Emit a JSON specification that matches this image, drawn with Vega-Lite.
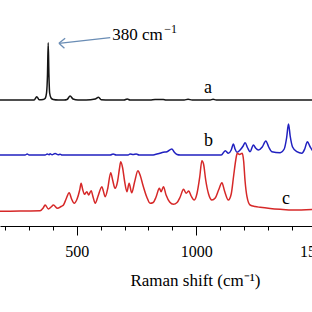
{
  "$schema": "https://vega.github.io/schema/vega-lite/v6.json",
  "width": 312,
  "height": 226,
  "autosize": "none",
  "padding": {"left": 0, "top": 0, "right": 0, "bottom": 86},
  "background": "white",
  "config": {"view": {"stroke": null}},
  "resolve": {"axis": {"x": "independent"}},
  "datasets": {
    "spectra": [
      {"shift": 178, "intensity": 126, "series": "a"},
      {"shift": 262, "intensity": 126, "series": "a"},
      {"shift": 304, "intensity": 126, "series": "a"},
      {"shift": 321, "intensity": 126, "series": "a"},
      {"shift": 332, "intensity": 129.3, "series": "a"},
      {"shift": 342, "intensity": 126.3, "series": "a"},
      {"shift": 359, "intensity": 126.5, "series": "a"},
      {"shift": 367, "intensity": 127.5, "series": "a"},
      {"shift": 373, "intensity": 133, "series": "a"},
      {"shift": 377, "intensity": 151, "series": "a"},
      {"shift": 380, "intensity": 183.3, "series": "a"},
      {"shift": 383, "intensity": 151, "series": "a"},
      {"shift": 386, "intensity": 133, "series": "a"},
      {"shift": 392, "intensity": 128, "series": "a"},
      {"shift": 401, "intensity": 126.5, "series": "a"},
      {"shift": 422, "intensity": 126, "series": "a"},
      {"shift": 447, "intensity": 126, "series": "a"},
      {"shift": 459, "intensity": 126.5, "series": "a"},
      {"shift": 472, "intensity": 130, "series": "a"},
      {"shift": 484, "intensity": 127, "series": "a"},
      {"shift": 505, "intensity": 126, "series": "a"},
      {"shift": 539, "intensity": 126, "series": "a"},
      {"shift": 577, "intensity": 127, "series": "a"},
      {"shift": 591, "intensity": 128.7, "series": "a"},
      {"shift": 602, "intensity": 126.3, "series": "a"},
      {"shift": 640, "intensity": 126, "series": "a"},
      {"shift": 698, "intensity": 126, "series": "a"},
      {"shift": 711, "intensity": 127, "series": "a"},
      {"shift": 723, "intensity": 126, "series": "a"},
      {"shift": 807, "intensity": 126, "series": "a"},
      {"shift": 828, "intensity": 126.6, "series": "a"},
      {"shift": 862, "intensity": 126.6, "series": "a"},
      {"shift": 874, "intensity": 126, "series": "a"},
      {"shift": 950, "intensity": 126, "series": "a"},
      {"shift": 966, "intensity": 126.8, "series": "a"},
      {"shift": 983, "intensity": 126, "series": "a"},
      {"shift": 1059, "intensity": 126, "series": "a"},
      {"shift": 1071, "intensity": 126.8, "series": "a"},
      {"shift": 1084, "intensity": 126, "series": "a"},
      {"shift": 1500, "intensity": 126, "series": "a"},

      {"shift": 178, "intensity": 71, "series": "b"},
      {"shift": 283, "intensity": 71, "series": "b"},
      {"shift": 292, "intensity": 72, "series": "b"},
      {"shift": 300, "intensity": 71, "series": "b"},
      {"shift": 367, "intensity": 71, "series": "b"},
      {"shift": 376, "intensity": 72, "series": "b"},
      {"shift": 384, "intensity": 71.3, "series": "b"},
      {"shift": 388, "intensity": 72.2, "series": "b"},
      {"shift": 396, "intensity": 71.3, "series": "b"},
      {"shift": 409, "intensity": 72.5, "series": "b"},
      {"shift": 422, "intensity": 71.3, "series": "b"},
      {"shift": 430, "intensity": 71.8, "series": "b"},
      {"shift": 438, "intensity": 71, "series": "b"},
      {"shift": 640, "intensity": 71, "series": "b"},
      {"shift": 652, "intensity": 72, "series": "b"},
      {"shift": 665, "intensity": 71, "series": "b"},
      {"shift": 715, "intensity": 71, "series": "b"},
      {"shift": 723, "intensity": 72, "series": "b"},
      {"shift": 736, "intensity": 71.4, "series": "b"},
      {"shift": 749, "intensity": 72, "series": "b"},
      {"shift": 761, "intensity": 71, "series": "b"},
      {"shift": 816, "intensity": 71, "series": "b"},
      {"shift": 828, "intensity": 71.5, "series": "b"},
      {"shift": 845, "intensity": 72.5, "series": "b"},
      {"shift": 862, "intensity": 73.7, "series": "b"},
      {"shift": 878, "intensity": 74.3, "series": "b"},
      {"shift": 898, "intensity": 77, "series": "b"},
      {"shift": 908, "intensity": 74, "series": "b"},
      {"shift": 920, "intensity": 71.5, "series": "b"},
      {"shift": 933, "intensity": 71, "series": "b"},
      {"shift": 1105, "intensity": 71, "series": "b"},
      {"shift": 1122, "intensity": 75.3, "series": "b"},
      {"shift": 1135, "intensity": 72.7, "series": "b"},
      {"shift": 1147, "intensity": 76, "series": "b"},
      {"shift": 1156, "intensity": 82, "series": "b"},
      {"shift": 1163, "intensity": 77, "series": "b"},
      {"shift": 1171, "intensity": 73.7, "series": "b"},
      {"shift": 1184, "intensity": 76, "series": "b"},
      {"shift": 1197, "intensity": 80, "series": "b"},
      {"shift": 1205, "intensity": 83.3, "series": "b"},
      {"shift": 1216, "intensity": 78, "series": "b"},
      {"shift": 1226, "intensity": 74.3, "series": "b"},
      {"shift": 1240, "intensity": 81, "series": "b"},
      {"shift": 1249, "intensity": 78, "series": "b"},
      {"shift": 1261, "intensity": 76, "series": "b"},
      {"shift": 1277, "intensity": 79, "series": "b"},
      {"shift": 1292, "intensity": 85, "series": "b"},
      {"shift": 1304, "intensity": 79, "series": "b"},
      {"shift": 1317, "intensity": 74.3, "series": "b"},
      {"shift": 1352, "intensity": 73.3, "series": "b"},
      {"shift": 1369, "intensity": 77, "series": "b"},
      {"shift": 1379, "intensity": 88, "series": "b"},
      {"shift": 1387, "intensity": 102, "series": "b"},
      {"shift": 1394, "intensity": 90, "series": "b"},
      {"shift": 1404, "intensity": 79, "series": "b"},
      {"shift": 1422, "intensity": 74.3, "series": "b"},
      {"shift": 1443, "intensity": 72.7, "series": "b"},
      {"shift": 1455, "intensity": 77, "series": "b"},
      {"shift": 1466, "intensity": 84.3, "series": "b"},
      {"shift": 1478, "intensity": 79, "series": "b"},
      {"shift": 1486, "intensity": 76, "series": "b"},
      {"shift": 1500, "intensity": 73, "series": "b"},

      {"shift": 178, "intensity": 14.7, "series": "c"},
      {"shift": 262, "intensity": 15, "series": "c"},
      {"shift": 346, "intensity": 15.3, "series": "c"},
      {"shift": 359, "intensity": 18, "series": "c"},
      {"shift": 367, "intensity": 21, "series": "c"},
      {"shift": 381, "intensity": 17, "series": "c"},
      {"shift": 392, "intensity": 19, "series": "c"},
      {"shift": 402, "intensity": 21, "series": "c"},
      {"shift": 419, "intensity": 17.7, "series": "c"},
      {"shift": 434, "intensity": 19.5, "series": "c"},
      {"shift": 444, "intensity": 21, "series": "c"},
      {"shift": 455, "intensity": 27, "series": "c"},
      {"shift": 468, "intensity": 33.3, "series": "c"},
      {"shift": 478, "intensity": 27, "series": "c"},
      {"shift": 489, "intensity": 22.7, "series": "c"},
      {"shift": 501, "intensity": 27, "series": "c"},
      {"shift": 512, "intensity": 36, "series": "c"},
      {"shift": 518, "intensity": 42.7, "series": "c"},
      {"shift": 524, "intensity": 37, "series": "c"},
      {"shift": 532, "intensity": 31.7, "series": "c"},
      {"shift": 542, "intensity": 34.3, "series": "c"},
      {"shift": 549, "intensity": 31, "series": "c"},
      {"shift": 560, "intensity": 35.3, "series": "c"},
      {"shift": 568, "intensity": 29, "series": "c"},
      {"shift": 577, "intensity": 22.7, "series": "c"},
      {"shift": 589, "intensity": 30, "series": "c"},
      {"shift": 605, "intensity": 39.3, "series": "c"},
      {"shift": 611, "intensity": 35, "series": "c"},
      {"shift": 619, "intensity": 29.3, "series": "c"},
      {"shift": 629, "intensity": 37, "series": "c"},
      {"shift": 642, "intensity": 53.3, "series": "c"},
      {"shift": 650, "intensity": 46, "series": "c"},
      {"shift": 660, "intensity": 37.7, "series": "c"},
      {"shift": 671, "intensity": 45, "series": "c"},
      {"shift": 679, "intensity": 58, "series": "c"},
      {"shift": 684, "intensity": 64.3, "series": "c"},
      {"shift": 692, "intensity": 58, "series": "c"},
      {"shift": 700, "intensity": 45, "series": "c"},
      {"shift": 710, "intensity": 34.3, "series": "c"},
      {"shift": 719, "intensity": 42.7, "series": "c"},
      {"shift": 730, "intensity": 33.3, "series": "c"},
      {"shift": 742, "intensity": 44, "series": "c"},
      {"shift": 756, "intensity": 55.3, "series": "c"},
      {"shift": 765, "intensity": 51, "series": "c"},
      {"shift": 778, "intensity": 40, "series": "c"},
      {"shift": 793, "intensity": 29, "series": "c"},
      {"shift": 807, "intensity": 22.7, "series": "c"},
      {"shift": 820, "intensity": 23.5, "series": "c"},
      {"shift": 832, "intensity": 29, "series": "c"},
      {"shift": 846, "intensity": 37.7, "series": "c"},
      {"shift": 853, "intensity": 34.3, "series": "c"},
      {"shift": 863, "intensity": 39.3, "series": "c"},
      {"shift": 874, "intensity": 31, "series": "c"},
      {"shift": 889, "intensity": 24, "series": "c"},
      {"shift": 905, "intensity": 21.7, "series": "c"},
      {"shift": 920, "intensity": 23.5, "series": "c"},
      {"shift": 933, "intensity": 29, "series": "c"},
      {"shift": 947, "intensity": 36.7, "series": "c"},
      {"shift": 958, "intensity": 32.7, "series": "c"},
      {"shift": 969, "intensity": 35, "series": "c"},
      {"shift": 979, "intensity": 30, "series": "c"},
      {"shift": 992, "intensity": 26, "series": "c"},
      {"shift": 1004, "intensity": 33, "series": "c"},
      {"shift": 1015, "intensity": 49, "series": "c"},
      {"shift": 1024, "intensity": 65.3, "series": "c"},
      {"shift": 1031, "intensity": 62, "series": "c"},
      {"shift": 1040, "intensity": 46, "series": "c"},
      {"shift": 1052, "intensity": 32, "series": "c"},
      {"shift": 1066, "intensity": 26, "series": "c"},
      {"shift": 1080, "intensity": 28, "series": "c"},
      {"shift": 1094, "intensity": 36, "series": "c"},
      {"shift": 1108, "intensity": 43.3, "series": "c"},
      {"shift": 1119, "intensity": 35, "series": "c"},
      {"shift": 1135, "intensity": 26, "series": "c"},
      {"shift": 1147, "intensity": 32, "series": "c"},
      {"shift": 1157, "intensity": 50, "series": "c"},
      {"shift": 1166, "intensity": 66, "series": "c"},
      {"shift": 1172, "intensity": 72.7, "series": "c"},
      {"shift": 1182, "intensity": 71.5, "series": "c"},
      {"shift": 1193, "intensity": 72.7, "series": "c"},
      {"shift": 1199, "intensity": 65, "series": "c"},
      {"shift": 1205, "intensity": 45, "series": "c"},
      {"shift": 1213, "intensity": 29.3, "series": "c"},
      {"shift": 1226, "intensity": 21, "series": "c"},
      {"shift": 1247, "intensity": 19.5, "series": "c"},
      {"shift": 1268, "intensity": 18.7, "series": "c"},
      {"shift": 1310, "intensity": 17.5, "series": "c"},
      {"shift": 1352, "intensity": 16.7, "series": "c"},
      {"shift": 1407, "intensity": 16, "series": "c"},
      {"shift": 1500, "intensity": 16.7, "series": "c"}
    ],
    "labels": [
      {"shift": 1050, "intensity": 138, "text": "a"},
      {"shift": 1052, "intensity": 85.3, "text": "b"},
      {"shift": 1377, "intensity": 27, "text": "c"}
    ],
    "arrow": [
      {"x1": 640, "y1": 188.3, "x2": 425, "y2": 182.7},
      {"x1": 451, "y1": 187.7, "x2": 425, "y2": 182.7},
      {"x1": 448, "y1": 177.7, "x2": 425, "y2": 182.7}
    ],
    "note": [
      {"shift": 648, "intensity": 186, "text": "380 cm", "size": "main"},
      {"shift": 866, "intensity": 193, "text": "−1", "size": "sup"}
    ]
  },
  "layer": [
    {
      "data": {"name": "spectra"},
      "mark": {"type": "line", "strokeWidth": 1.5, "interpolate": "monotone"},
      "encoding": {
        "x": {
          "field": "shift", "type": "quantitative",
          "scale": {"domain": [178, 1519], "range": [0, 320], "nice": false, "zero": false},
          "axis": {
            "orient": "bottom",
            "title": "Raman shift (cm⁻¹)",
            "values": [500, 1000, 1500],
            "format": "d",
            "grid": false,
            "domainColor": "#000",
            "domainWidth": 1,
            "tickColor": "#000",
            "tickWidth": 1,
            "tickSize": 9,
            "labelFont": "Liberation Serif",
            "labelFontSize": 16,
            "labelColor": "#000",
            "labelBaseline": "alphabetic",
            "labelPadding": 21,
            "labelFlush": false,
            "labelOverlap": false,
            "labelBound": false,
            "titleFont": "Liberation Serif",
            "titleFontSize": 17,
            "titleFontWeight": "normal",
            "titleColor": "#000",
            "titleX": 195,
            "titleY": 59,
            "titleAlign": "center",
            "titleBaseline": "alphabetic"
          }
        },
        "y": {
          "field": "intensity", "type": "quantitative",
          "scale": {"domain": [0, 226], "nice": false, "zero": false},
          "axis": null
        },
        "color": {
          "field": "series", "type": "nominal",
          "scale": {"domain": ["a", "b", "c"], "range": ["#141414", "#2020c0", "#d62828"]},
          "legend": null
        }
      }
    },
    {
      "data": {"name": "arrow"},
      "mark": {"type": "rule", "color": "#6a8db5", "strokeWidth": 1.3},
      "encoding": {
        "x": {
          "field": "x1", "type": "quantitative",
          "axis": {
            "orient": "bottom",
            "title": null,
            "values": [200, 300, 400, 600, 700, 800, 900, 1100, 1200, 1300, 1400],
            "labels": false,
            "domain": false,
            "grid": false,
            "tickColor": "#000",
            "tickWidth": 1,
            "tickSize": 4
          }
        },
        "y": {"field": "y1", "type": "quantitative", "axis": null},
        "x2": {"field": "x2"},
        "y2": {"field": "y2"}
      }
    },
    {
      "data": {"name": "labels"},
      "mark": {"type": "text", "font": "Liberation Serif", "fontSize": 18, "color": "#000", "baseline": "middle", "align": "center"},
      "encoding": {
        "x": {"field": "shift", "type": "quantitative", "axis": null},
        "y": {"field": "intensity", "type": "quantitative", "axis": null},
        "text": {"field": "text"}
      }
    },
    {
      "data": {"name": "note"},
      "mark": {"type": "text", "font": "Liberation Serif", "color": "#000", "baseline": "alphabetic", "align": "left"},
      "encoding": {
        "x": {"field": "shift", "type": "quantitative", "axis": null},
        "y": {"field": "intensity", "type": "quantitative", "axis": null},
        "text": {"field": "text"},
        "size": {
          "field": "size", "type": "nominal",
          "scale": {"domain": ["main", "sup"], "range": [17, 12]},
          "legend": null
        }
      }
    }
  ]
}
